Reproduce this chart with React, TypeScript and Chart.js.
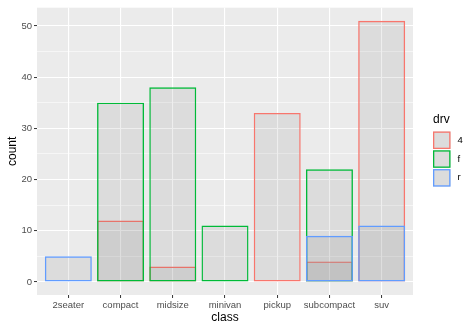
import React, { useEffect, useRef } from "react";
import { Chart, registerables } from "chart.js";

Chart.register(...registerables);

const CLASSES = ["2seater", "compact", "midsize", "minivan", "pickup", "subcompact", "suv"];
const DRV = ["4", "f", "r"];
const COUNT_4 = [null, 12, 3, null, 33, 4, 51];
const COUNT_F = [null, 35, 38, 11, null, 22, null];
const COUNT_R = [5, null, null, null, null, 9, 11];
const COLORS = ["#F8766D", "#00BA38", "#619CFF"];
const Y_TICKS = [0, 5, 10, 15, 20, 25, 30, 35, 40, 45, 50];

const FONT = "'Liberation Sans', Arial, sans-serif";
const FILL = "rgba(89,89,89,0.1)";

function toPoints(arr: (number | null)[]) {
  const out: { x: number; y: number }[] = [];
  arr.forEach((v, i) => {
    if (v !== null) out.push({ x: i + 1, y: v });
  });
  return out;
}

const panelBg = {
  id: "panelBg",
  beforeDraw(chart: any) {
    const { ctx, chartArea } = chart;
    ctx.save();
    ctx.fillStyle = "#EBEBEB";
    ctx.fillRect(chartArea.left, chartArea.top, chartArea.right - chartArea.left, chartArea.bottom - chartArea.top);
    ctx.restore();
  },
};

const ggLegend = {
  id: "ggLegend",
  afterDraw(chart: any) {
    const { ctx } = chart;
    const bx = chart.chartArea.right + 20;
    ctx.save();
    ctx.fillStyle = "#000";
    ctx.font = `12px ${FONT}`;
    ctx.textBaseline = "middle";
    ctx.textAlign = "left";
    ctx.fillText("drv", bx, 120);
    const box = 17.5;
    chart.data.datasets.forEach((ds: any, i: number) => {
      const by = 131.5 + i * 18.8;
      ctx.fillStyle = "#EBEBEB";
      ctx.fillRect(bx, by, box, box);
      ctx.fillStyle = FILL;
      ctx.fillRect(bx, by, box, box);
      ctx.strokeStyle = ds.borderColor;
      ctx.lineWidth = 1.3;
      ctx.strokeRect(bx + 0.65, by + 0.65, box - 1.3, box - 1.3);
      ctx.fillStyle = "#000";
      ctx.font = `9.5px ${FONT}`;
      ctx.fillText(ds.label, bx + box + 7, by + box / 2);
    });
    ctx.restore();
  },
};

export default function App() {
  const ref = useRef<HTMLCanvasElement>(null);
  useEffect(() => {
    document.body.style.margin = "0";
    const series = [COUNT_4, COUNT_F, COUNT_R];
    const chart = new Chart(ref.current!, {
      type: "bar",
      data: {
        datasets: series.map((s, i) => ({
          label: DRV[i],
          data: toPoints(s),
          backgroundColor: FILL,
          borderColor: COLORS[i],
          borderWidth: 1.4,
          borderSkipped: false,
          grouped: false,
          barPercentage: 0.9,
          categoryPercentage: 1,
          order: 3 - i,
        })) as any,
      },
      options: {
        animation: false,
        responsive: false,
        maintainAspectRatio: false,
        layout: { padding: { top: 6, right: 61, left: 0, bottom: 0 } },
        plugins: { legend: { display: false }, tooltip: { enabled: false } },
        scales: {
          x: {
            type: "linear",
            min: 0.4,
            max: 7.6,
            offset: false,
            afterBuildTicks: (s: any) => {
              s.ticks = CLASSES.map((_, i) => ({ value: i + 1 }));
            },
            afterFit: (s: any) => {
              s.height = 36;
            },
            ticks: {
              autoSkip: false,
              maxRotation: 0,
              padding: 2,
              color: "#4D4D4D",
              font: { family: FONT, size: 9.5 },
              callback: (v: any) => CLASSES[Math.round(v) - 1],
            },
            grid: {
              offset: false,
              color: "#FFFFFF",
              lineWidth: 1.1,
              tickColor: "#333333",
              tickLength: 3,
              tickWidth: 1,
            },
            border: { display: false },
            title: {
              display: true,
              text: "class",
              color: "#000",
              font: { family: FONT, size: 12 },
              padding: { top: 2, bottom: 6 },
            },
          },
          y: {
            type: "linear",
            min: -2.55,
            max: 53.55,
            afterBuildTicks: (s: any) => {
              s.ticks = Y_TICKS.map((v) => ({ value: v }));
            },
            afterFit: (s: any) => {
              s.width = 37;
            },
            ticks: {
              autoSkip: false,
              padding: 2,
              color: "#4D4D4D",
              font: { family: FONT, size: 9.5 },
              callback: (v: any) => (v % 10 === 0 ? String(v) : ""),
            },
            grid: {
              color: "#FFFFFF",
              lineWidth: (c: any) => (c.tick && c.tick.value % 10 === 0 ? 1.1 : 0.55),
              tickColor: (c: any) => (c.tick && c.tick.value % 10 === 0 ? "#333333" : "rgba(0,0,0,0)"),
              tickLength: 3,
              tickWidth: 1,
            },
            border: { display: false },
            title: {
              display: true,
              text: "count",
              color: "#000",
              font: { family: FONT, size: 12 },
              padding: { top: 5, bottom: 2 },
            },
          },
        },
      },
      plugins: [panelBg, ggLegend],
    });
    return () => chart.destroy();
  }, []);
  return (
    <div style={{ width: 474, height: 331 }}>
      <canvas ref={ref} width={474} height={331} style={{ display: "block" }} />
    </div>
  );
}
